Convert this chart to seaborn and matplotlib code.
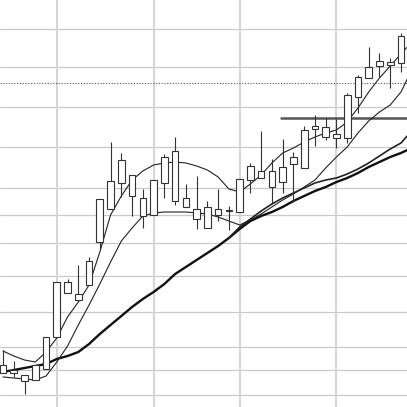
import numpy as np
import pandas as pd
import matplotlib
matplotlib.use("Agg")
import matplotlib.pyplot as plt
import seaborn as sns

# Daily candles (prices)
open_ = [7.7, 7.7, 6.9, 7.0, 8.1, 11.3, 15.7, 15.0, 16.5, 20.8, 24.1, 26.7, 25.4, 23.4, 23.5, 26.7,
         24.9, 24.3, 23.1, 22.2, 23.5, 23.9, 23.8, 27.0, 27.2, 26.3, 26.8, 28.6, 28.2, 32.1, 31.3, 31.2,
         31.2, 35.3, 37.2, 38.4, 38.5, 38.7]
high = [10.0, 8.9, 7.5, 8.5, 11.3, 16.8, 17.1, 18.5, 19.3, 25.1, 30.8, 29.7, 27.5, 26.1, 27.0, 29.6,
        31.3, 26.6, 27.4, 24.9, 26.1, 24.4, 27.1, 28.7, 31.9, 29.1, 31.1, 29.8, 32.4, 33.5, 33.2, 33.1,
        35.7, 37.5, 40.3, 39.7, 39.2, 41.7]
low = [7.7, 7.3, 5.6, 7.0, 8.1, 11.3, 15.7, 15.0, 16.5, 20.1, 24.1, 25.3, 23.4, 22.2, 23.5, 25.2,
       24.5, 24.3, 22.1, 22.2, 22.9, 22.0, 23.8, 25.7, 27.2, 24.6, 25.7, 24.8, 28.2, 30.4, 31.0, 30.2,
       30.7, 33.7, 37.2, 37.3, 36.2, 37.8]
close = [8.5, 8.0, 7.5, 8.5, 11.3, 16.8, 16.8, 15.6, 18.9, 25.1, 26.9, 29.0, 27.5, 25.2, 27.0, 29.3,
         29.9, 25.2, 24.1, 24.3, 24.1, 23.9, 27.1, 28.4, 27.9, 27.9, 28.3, 29.3, 32.0, 32.4, 32.3, 31.6,
         35.5, 37.3, 38.3, 38.9, 38.8, 41.4]

# Moving averages (one extra point past the right edge)
ma_short = [9.9, 9.4, 9.0, 8.8, 9.8, 11.2, 13.3, 14.8, 16.5, 19.8, 23.5, 25.4, 27.0, 27.9, 28.5, 28.7,
            28.8, 28.7, 28.4, 28.0, 27.3, 26.1, 25.8, 26.6, 27.5, 28.7, 29.7, 30.2, 30.8, 31.3, 31.7,
            32.0, 32.8, 34.2, 35.8, 37.2, 38.4, 39.6, 40.8]
ma_mid = [7.3, 7.2, 7.1, 7.0, 7.4, 8.8, 10.4, 12.5, 14.5, 16.6, 18.8, 20.9, 22.2, 23.4, 23.7, 23.8,
          23.8, 23.8, 23.7, 23.6, 23.3, 22.9, 22.5, 23.0, 23.6, 24.3, 25.0, 25.6, 26.3, 27.0, 28.2,
          29.3, 30.3, 31.7, 32.9, 33.8, 34.5, 35.8, 38.0]
ma_long = [7.8, 8.0, 8.2, 8.4, 8.6, 9.1, 9.4, 9.8, 10.6, 11.6, 12.5, 13.4, 14.3, 15.1, 15.8, 16.6,
           17.6, 18.3, 19.0, 19.7, 20.4, 21.2, 22.1, 22.9, 23.4, 23.8, 24.3, 24.9, 25.4, 25.9, 26.3,
           26.8, 27.2, 27.7, 28.3, 28.8, 29.3, 29.7, 30.2]
ma_week = [21.2, 22.3, 23.1, 23.9, 24.6, 25.2, 25.7, 26.2, 26.7, 27.0, 27.2, 27.6, 28.1, 28.7, 29.4,
           30.1, 30.7, 31.9]
ma_week_start = 21

grid_prices = [42.1, 38.3, 34.3, 30.3, 26.2, 23.5, 20.7, 17.4, 13.8, 10.3, 8.0, 5.5]
grid_days = [5, 14, 22, 31]
dotted_level = 36.7
resist_level = 33.2
resist_from = 25.84

sns.set_style("white")
fig = plt.figure(figsize=(4.07, 4.07), dpi=100)
ax = fig.add_axes([0, 0, 1, 1])

days = np.arange(len(close))
ma = pd.DataFrame({"day": np.arange(len(ma_short)), "short": ma_short, "mid": ma_mid, "long": ma_long})
wk = pd.DataFrame({"day": np.arange(ma_week_start, ma_week_start + len(ma_week)), "val": ma_week})

for p in grid_prices:
    ax.axhline(p, color="#c9c9c9", lw=0.9, zorder=0)
for d in grid_days:
    ax.axvline(d, color="#d6d6d6", lw=1.5, zorder=0)

ax.axhline(dotted_level, color="#555555", lw=0.8, ls=(0, (1, 1.5)), zorder=1)
ax.plot([resist_from, 40], [resist_level, resist_level], color="#555555", lw=1.8, zorder=1)

sns.lineplot(data=ma, x="day", y="long", color="#111111", lw=1.7, ax=ax, zorder=3)
sns.lineplot(data=wk, x="day", y="val", color="#222222", lw=1.2, ax=ax, zorder=3)
sns.lineplot(data=ma, x="day", y="mid", color="#222222", lw=0.8, ax=ax, zorder=3)
sns.lineplot(data=ma, x="day", y="short", color="#222222", lw=0.8, ax=ax, zorder=3)

o = np.array(open_)
c = np.array(close)
ax.vlines(days, low, high, color="#333333", lw=0.8, zorder=4)
ax.bar(days, np.maximum(np.abs(c - o), 0.08), bottom=np.minimum(o, c), width=0.62,
       color="white", edgecolor="#333333", linewidth=0.8, zorder=5)

ax.set_xlim(-0.28, 37.56)
ax.set_ylim(4.3, 45.0)
ax.set_xticks([])
ax.set_yticks([])
ax.set_xlabel("")
ax.set_ylabel("")
for s in ax.spines.values():
    s.set_visible(False)

fig.savefig("out.png", dpi=100)
